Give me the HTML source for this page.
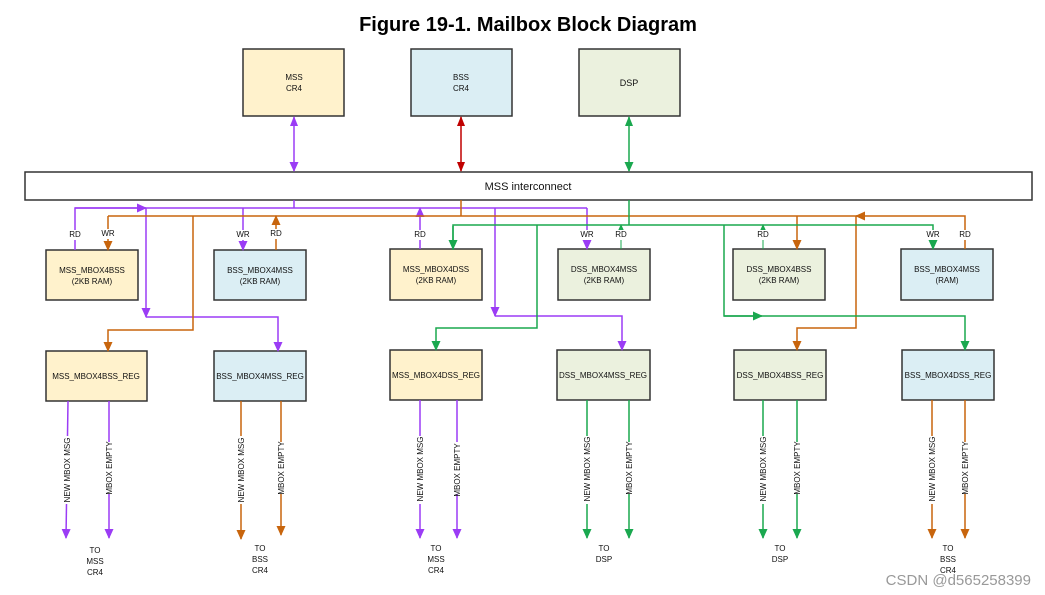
<!DOCTYPE html>
<html><head><meta charset="utf-8"><style>
html,body{margin:0;padding:0;background:#fff;}
svg{display:block;font-family:"Liberation Sans",sans-serif;}
</style></head><body>
<svg width="1045" height="595" viewBox="0 0 1045 595" xmlns="http://www.w3.org/2000/svg">
<defs>
<marker id="ap" markerWidth="10" markerHeight="10" refX="9" refY="5" orient="auto" markerUnits="userSpaceOnUse"><path d="M0,0.5 L10,5 L0,9.5z" fill="#9b3cf5"/></marker>
<marker id="ao" markerWidth="10" markerHeight="10" refX="9" refY="5" orient="auto" markerUnits="userSpaceOnUse"><path d="M0,0.5 L10,5 L0,9.5z" fill="#c8650d"/></marker>
<marker id="ag" markerWidth="10" markerHeight="10" refX="9" refY="5" orient="auto" markerUnits="userSpaceOnUse"><path d="M0,0.5 L10,5 L0,9.5z" fill="#1aa84f"/></marker>
<marker id="ar" markerWidth="10" markerHeight="10" refX="9" refY="5" orient="auto" markerUnits="userSpaceOnUse"><path d="M0,1 L10,5 L0,9z" fill="#c00000"/></marker>
<marker id="sp" markerWidth="10" markerHeight="10" refX="1" refY="5" orient="auto" markerUnits="userSpaceOnUse"><path d="M10,1 L0,5 L10,9z" fill="#9b3cf5"/></marker>
<marker id="sr" markerWidth="10" markerHeight="10" refX="1" refY="5" orient="auto" markerUnits="userSpaceOnUse"><path d="M10,1 L0,5 L10,9z" fill="#c00000"/></marker>
<marker id="sg" markerWidth="10" markerHeight="10" refX="1" refY="5" orient="auto" markerUnits="userSpaceOnUse"><path d="M10,1 L0,5 L10,9z" fill="#1aa84f"/></marker>
</defs>
<text x="528" y="31" text-anchor="middle" font-size="20" font-weight="bold">Figure 19-1. Mailbox Block Diagram</text>

<g stroke="#333" stroke-width="1.5">
<rect x="243" y="49" width="101" height="67" fill="#fff2cc"/>
<rect x="411" y="49" width="101" height="67" fill="#dbeef4"/>
<rect x="579" y="49" width="101" height="67" fill="#ebf1de"/>
<rect x="25" y="172" width="1007" height="28" fill="#fff"/>
<rect x="46" y="250" width="92" height="50" fill="#fff2cc"/>
<rect x="214" y="250" width="92" height="50" fill="#dbeef4"/>
<rect x="390" y="249" width="92" height="51" fill="#fff2cc"/>
<rect x="558" y="249" width="92" height="51" fill="#ebf1de"/>
<rect x="733" y="249" width="92" height="51" fill="#ebf1de"/>
<rect x="901" y="249" width="92" height="51" fill="#dbeef4"/>
<rect x="46" y="351" width="101" height="50" fill="#fff2cc"/>
<rect x="214" y="351" width="92" height="50" fill="#dbeef4"/>
<rect x="390" y="350" width="92" height="50" fill="#fff2cc"/>
<rect x="557" y="350" width="93" height="50" fill="#ebf1de"/>
<rect x="734" y="350" width="92" height="50" fill="#ebf1de"/>
<rect x="902" y="350" width="92" height="50" fill="#dbeef4"/>
</g>
<g font-size="8" text-anchor="middle" fill="#111">
<text x="294" y="80">MSS</text><text x="294" y="91">CR4</text>
<text x="461" y="80">BSS</text><text x="461" y="91">CR4</text>
<text x="629" y="86" font-size="9">DSP</text>
<text x="528" y="190" font-size="11">MSS interconnect</text>
<text x="92" y="273">MSS_MBOX4BSS</text><text x="92" y="284">(2KB RAM)</text>
<text x="260" y="273">BSS_MBOX4MSS</text><text x="260" y="284">(2KB RAM)</text>
<text x="436" y="272">MSS_MBOX4DSS</text><text x="436" y="283">(2KB RAM)</text>
<text x="604" y="272">DSS_MBOX4MSS</text><text x="604" y="283">(2KB RAM)</text>
<text x="779" y="272">DSS_MBOX4BSS</text><text x="779" y="283">(2KB RAM)</text>
<text x="947" y="272">BSS_MBOX4MSS</text><text x="947" y="283">(RAM)</text>
<text x="96" y="379">MSS_MBOX4BSS_REG</text>
<text x="260" y="379">BSS_MBOX4MSS_REG</text>
<text x="436" y="378">MSS_MBOX4DSS_REG</text>
<text x="603" y="378">DSS_MBOX4MSS_REG</text>
<text x="780" y="378">DSS_MBOX4BSS_REG</text>
<text x="948" y="378">BSS_MBOX4DSS_REG</text>
</g>
<g fill="none" stroke-width="1.5">
<line x1="294" y1="117" x2="294" y2="171" stroke="#9b3cf5" marker-start="url(#sp)" marker-end="url(#ap)"/>
<line x1="461" y1="117" x2="461" y2="171" stroke="#c00000" marker-start="url(#sr)" marker-end="url(#ar)"/>
<line x1="629" y1="117" x2="629" y2="171" stroke="#1aa84f" marker-start="url(#sg)" marker-end="url(#ag)"/>
<!-- purple -->
<g stroke="#9b3cf5">
<line x1="294" y1="200" x2="294" y2="208"/>
<polyline points="75,250 75,208 587,208"/>
<line x1="75" y1="208" x2="146" y2="208" marker-end="url(#ap)"/>
<line x1="587" y1="208" x2="587" y2="249" marker-end="url(#ap)"/>
<line x1="243" y1="208" x2="243" y2="250" marker-end="url(#ap)"/>
<line x1="420" y1="249" x2="420" y2="208" marker-end="url(#ap)"/>
<line x1="146" y1="208" x2="146" y2="317" marker-end="url(#ap)"/>
<polyline points="146,317 278,317 278,351" marker-end="url(#ap)"/>
<line x1="495" y1="208" x2="495" y2="316" marker-end="url(#ap)"/>
<polyline points="495,316 622,316 622,350" marker-end="url(#ap)"/>
</g>
<!-- orange -->
<g stroke="#c8650d">
<line x1="461" y1="200" x2="461" y2="216"/>
<polyline points="108,216 862,216"/>
<line x1="108" y1="216" x2="108" y2="250" marker-end="url(#ao)"/>
<line x1="276" y1="250" x2="276" y2="216" marker-end="url(#ao)"/>
<line x1="797" y1="216" x2="797" y2="249" marker-end="url(#ao)"/>
<polyline points="965,249 965,216 856,216" marker-end="url(#ao)"/>
<polyline points="856,216 856,328 797,328 797,350" marker-end="url(#ao)"/>
<polyline points="193,216 193,330 108,330 108,351" marker-end="url(#ao)"/>
</g>
<!-- green -->
<g stroke="#1aa84f">
<line x1="629" y1="200" x2="629" y2="225"/>
<polyline points="453,250 453,225 933,225 933,249" marker-end="url(#ag)"/>
<line x1="453" y1="226" x2="453" y2="249" marker-end="url(#ag)"/>
<line x1="621" y1="249" x2="621" y2="225" stroke-width="1" marker-end="url(#ag)"/>
<line x1="763" y1="249" x2="763" y2="225" stroke-width="1" marker-end="url(#ag)"/>
<polyline points="537,225 537,328 436,328 436,350" marker-end="url(#ag)"/>
<polyline points="724,225 724,316 965,316 965,350" marker-end="url(#ag)"/>
<line x1="724" y1="316" x2="762" y2="316" marker-end="url(#ag)"/>
</g>
<!-- outputs -->
<g stroke="#9b3cf5"><line x1="68" y1="401" x2="66" y2="538" marker-end="url(#ap)"/><line x1="109" y1="401" x2="109" y2="538" marker-end="url(#ap)"/>
<line x1="420" y1="400" x2="420" y2="538" marker-end="url(#ap)"/><line x1="457" y1="400" x2="457" y2="538" marker-end="url(#ap)"/></g>
<g stroke="#c8650d"><line x1="241" y1="401" x2="241" y2="539" marker-end="url(#ao)"/><line x1="281" y1="401" x2="281" y2="535" marker-end="url(#ao)"/>
<line x1="932" y1="400" x2="932" y2="538" marker-end="url(#ao)"/><line x1="965" y1="400" x2="965" y2="538" marker-end="url(#ao)"/></g>
<g stroke="#1aa84f"><line x1="587" y1="400" x2="587" y2="538" marker-end="url(#ag)"/><line x1="629" y1="400" x2="629" y2="538" marker-end="url(#ag)"/>
<line x1="763" y1="400" x2="763" y2="538" marker-end="url(#ag)"/><line x1="797" y1="400" x2="797" y2="538" marker-end="url(#ag)"/></g>
</g>
<g font-size="8" text-anchor="middle" fill="#111">
<g stroke="none" fill="#fff">
<rect x="69" y="230" width="13" height="10"/><rect x="101" y="229" width="14" height="10"/>
<rect x="236" y="230" width="14" height="10"/><rect x="270" y="229" width="13" height="10"/>
<rect x="413" y="230" width="14" height="10"/>
<rect x="580" y="230" width="14" height="10"/><rect x="615" y="230" width="13" height="10"/>
<rect x="756" y="230" width="14" height="10"/>
<rect x="926" y="230" width="14" height="10"/><rect x="959" y="230" width="13" height="10"/>
<rect x="61" y="436" width="12" height="68"/><rect x="103" y="442" width="12" height="52"/>
<rect x="235" y="436" width="12" height="68"/><rect x="275" y="442" width="12" height="52"/>
<rect x="414" y="436" width="12" height="68"/><rect x="451" y="442" width="12" height="52"/>
<rect x="581" y="436" width="12" height="68"/><rect x="623" y="442" width="12" height="52"/>
<rect x="757" y="436" width="12" height="68"/><rect x="791" y="442" width="12" height="52"/>
<rect x="926" y="436" width="12" height="68"/><rect x="959" y="442" width="12" height="52"/>
</g>
<text x="75" y="237">RD</text><text x="108" y="236">WR</text>
<text x="243" y="237">WR</text><text x="276" y="236">RD</text>
<text x="420" y="237">RD</text>
<text x="587" y="237">WR</text><text x="621" y="237">RD</text>
<text x="763" y="237">RD</text>
<text x="933" y="237">WR</text><text x="965" y="237">RD</text>
<text transform="translate(70,470) rotate(-90)">NEW MBOX MSG</text><text transform="translate(112,468) rotate(-90)">MBOX EMPTY</text>
<text transform="translate(244,470) rotate(-90)">NEW MBOX MSG</text><text transform="translate(284,468) rotate(-90)">MBOX EMPTY</text>
<text transform="translate(423,469) rotate(-90)">NEW MBOX MSG</text><text transform="translate(460,470) rotate(-90)">MBOX EMPTY</text>
<text transform="translate(590,469) rotate(-90)">NEW MBOX MSG</text><text transform="translate(632,468) rotate(-90)">MBOX EMPTY</text>
<text transform="translate(766,469) rotate(-90)">NEW MBOX MSG</text><text transform="translate(800,468) rotate(-90)">MBOX EMPTY</text>
<text transform="translate(935,469) rotate(-90)">NEW MBOX MSG</text><text transform="translate(968,468) rotate(-90)">MBOX EMPTY</text>
<text x="95" y="553">TO</text><text x="95" y="564">MSS</text><text x="95" y="575">CR4</text>
<text x="260" y="551">TO</text><text x="260" y="562">BSS</text><text x="260" y="573">CR4</text>
<text x="436" y="551">TO</text><text x="436" y="562">MSS</text><text x="436" y="573">CR4</text>
<text x="604" y="551">TO</text><text x="604" y="562">DSP</text>
<text x="780" y="551">TO</text><text x="780" y="562">DSP</text>
<text x="948" y="551">TO</text><text x="948" y="562">BSS</text><text x="948" y="573">CR4</text>
</g>
<text x="1031" y="585" text-anchor="end" font-size="15" fill="#999">CSDN @d565258399</text>
</svg>
</body></html>
